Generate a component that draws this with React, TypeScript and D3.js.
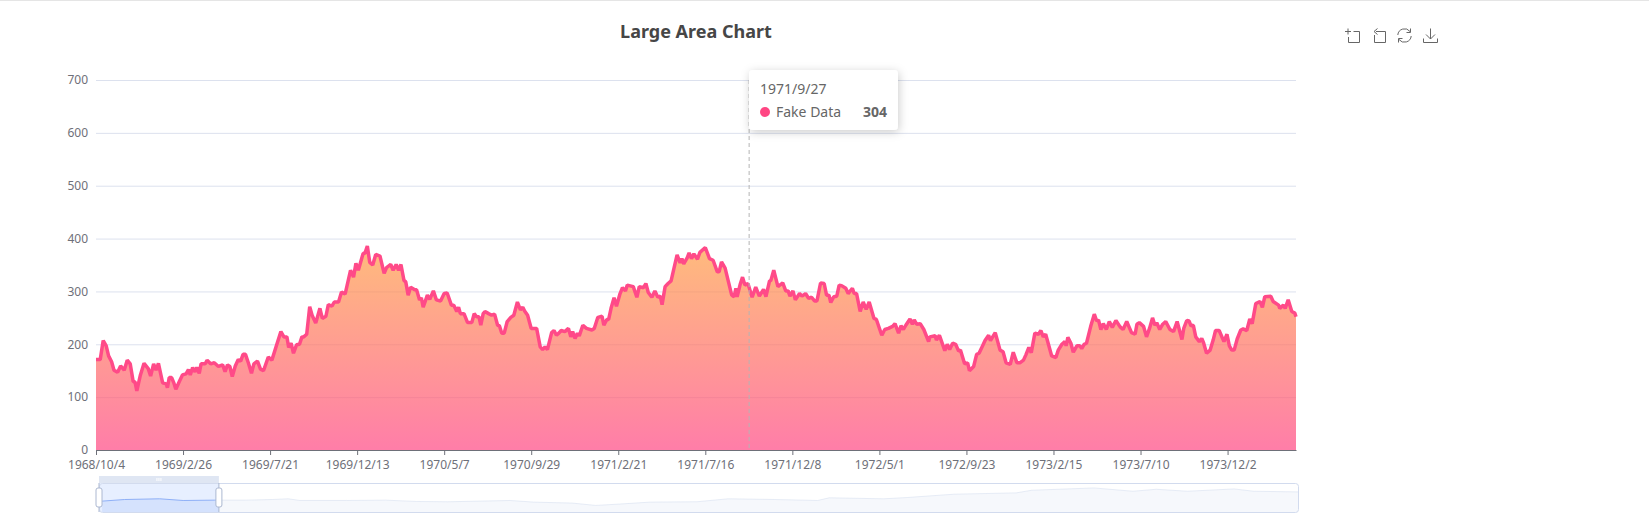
import React, { useEffect, useRef } from 'react'
import * as d3 from 'd3'

const chartTitle = 'Large Area Chart'
const seriesName = 'Fake Data'
const tooltipDate = '1971/9/27'
const tooltipDay = 1088
const tooltipValue = 304
const dayCount = 1999

const xTickDays = [0, 145, 290, 435, 580, 725, 870, 1015, 1160, 1305, 1450, 1595, 1740, 1885]
const xTickLabels = [
  '1968/10/4', '1969/2/26', '1969/7/21', '1969/12/13', '1970/5/7', '1970/9/29', '1971/2/21',
  '1971/7/16', '1971/12/8', '1972/5/1', '1972/9/23', '1973/2/15', '1973/7/10', '1973/12/2'
]
const yTicks = [0, 100, 200, 300, 400, 500, 600, 700]

// day offset from 1968/10/4 and value
const pointDays = [
  0, 7, 12, 17, 21, 26, 30, 36, 41, 47, 52, 57,
  62, 65, 68, 74, 80, 87, 91, 96, 100, 104, 111, 117,
  119, 122, 126, 130, 133, 139, 144, 150, 154, 157, 161, 165,
  168, 172, 175, 182, 185, 191, 197, 204, 211, 215, 219, 223,
  227, 232, 237, 241, 245, 249, 254, 259, 263, 269, 274, 279,
  287, 293, 301, 308, 313, 318, 321, 325, 329, 334, 339, 343,
  346, 351, 356, 360, 366, 373, 377, 383, 387, 393, 397, 404,
  409, 415, 424, 429, 433, 437, 445, 448, 452, 456, 461, 466,
  473, 480, 484, 491, 495, 500, 504, 508, 513, 516, 520, 524,
  531, 534, 539, 542, 545, 552, 556, 562, 567, 574, 580, 585,
  592, 596, 601, 604, 607, 613, 619, 626, 630, 634, 638, 641,
  645, 648, 654, 659, 664, 669, 672, 676, 680, 685, 691, 696,
  702, 707, 711, 714, 719, 725, 734, 740, 744, 748, 752, 759,
  763, 767, 771, 775, 781, 787, 791, 794, 798, 802, 805, 811,
  817, 826, 830, 836, 843, 846, 851, 854, 858, 863, 867, 873,
  877, 882, 885, 895, 901, 905, 912, 916, 920, 926, 931, 936,
  940, 943, 948, 953, 958, 962, 968, 973, 976, 979, 985, 988,
  992, 996, 1002, 1006, 1015, 1022, 1028, 1035, 1038, 1042, 1048, 1059,
  1063, 1066, 1068, 1073, 1077, 1081, 1086, 1093, 1099, 1105, 1112, 1116,
  1122, 1124, 1129, 1136, 1144, 1149, 1153, 1156, 1161, 1165, 1172, 1176,
  1182, 1187, 1192, 1197, 1201, 1207, 1213, 1217, 1221, 1224, 1229, 1234,
  1238, 1242, 1249, 1253, 1260, 1263, 1267, 1273, 1278, 1283, 1288, 1296,
  1300, 1309, 1314, 1320, 1327, 1331, 1337, 1341, 1345, 1349, 1356, 1360,
  1363, 1367, 1373, 1379, 1387, 1389, 1398, 1400, 1405, 1414, 1418, 1422,
  1427, 1432, 1437, 1440, 1447, 1452, 1455, 1462, 1467, 1471, 1476, 1481,
  1487, 1490, 1498, 1506, 1511, 1516, 1523, 1528, 1534, 1539, 1545, 1549,
  1554, 1558, 1564, 1570, 1574, 1578, 1582, 1592, 1599, 1603, 1609, 1614,
  1616, 1619, 1624, 1628, 1634, 1639, 1642, 1646, 1650, 1657, 1663, 1667,
  1670, 1674, 1678, 1683, 1688, 1693, 1699, 1706, 1711, 1717, 1725, 1731,
  1734, 1738, 1745, 1750, 1755, 1760, 1764, 1767, 1772, 1777, 1782, 1789,
  1795, 1801, 1809, 1812, 1817, 1821, 1824, 1828, 1832, 1838, 1842, 1845,
  1850, 1856, 1861, 1865, 1871, 1879, 1884, 1888, 1892, 1896, 1901, 1907,
  1911, 1917, 1922, 1926, 1932, 1939, 1943, 1947, 1957, 1961, 1970, 1972,
  1978, 1981, 1986, 1992, 1997, 1999
]
const pointValues = [
  171, 171, 207, 197, 178, 167, 151, 147, 159, 151, 170, 163,
  129, 129, 112, 142, 164, 154, 140, 163, 151, 164, 127, 125,
  118, 137, 137, 126, 115, 130, 142, 144, 152, 142, 156, 148,
  156, 145, 163, 163, 170, 163, 165, 158, 161, 148, 161, 158,
  139, 159, 171, 168, 181, 181, 164, 145, 163, 168, 153, 150,
  176, 170, 199, 224, 214, 214, 194, 202, 183, 199, 200, 214,
  214, 219, 271, 255, 240, 268, 249, 253, 275, 272, 280, 280,
  299, 295, 340, 327, 353, 340, 372, 372, 386, 355, 350, 370,
  367, 334, 345, 351, 340, 351, 340, 351, 321, 318, 293, 308,
  303, 303, 284, 288, 270, 293, 285, 301, 284, 282, 296, 297,
  274, 274, 262, 270, 258, 258, 241, 241, 258, 252, 252, 236,
  258, 262, 258, 255, 257, 236, 235, 221, 221, 243, 251, 255,
  280, 265, 270, 263, 255, 230, 230, 195, 190, 195, 190, 222,
  226, 217, 221, 226, 224, 230, 214, 224, 211, 221, 216, 236,
  230, 227, 230, 251, 253, 236, 247, 247, 268, 288, 272, 296,
  307, 301, 312, 309, 289, 309, 307, 315, 298, 289, 301, 289,
  291, 275, 309, 315, 320, 340, 369, 354, 362, 352, 364, 373,
  362, 371, 361, 374, 383, 362, 359, 337, 337, 356, 344, 293,
  290, 306, 290, 313, 327, 312, 315, 289, 308, 291, 304, 290,
  320, 320, 340, 309, 316, 301, 301, 291, 301, 284, 296, 291,
  296, 287, 289, 282, 282, 316, 315, 293, 293, 279, 290, 291,
  312, 311, 306, 296, 306, 296, 296, 262, 280, 266, 280, 249,
  247, 217, 228, 230, 234, 239, 221, 235, 228, 236, 248, 238,
  246, 238, 239, 228, 205, 214, 216, 208, 217, 188, 200, 190,
  202, 200, 187, 189, 163, 165, 150, 158, 181, 183, 195, 207,
  217, 207, 222, 189, 186, 165, 162, 185, 165, 165, 170, 180,
  194, 184, 221, 219, 226, 214, 219, 178, 175, 189, 200, 205,
  197, 213, 202, 185, 197, 197, 192, 200, 202, 234, 257, 244,
  246, 228, 239, 228, 243, 232, 245, 233, 228, 243, 222, 219,
  238, 241, 234, 214, 230, 250, 236, 241, 228, 238, 243, 228,
  224, 243, 209, 230, 245, 244, 235, 236, 214, 205, 211, 203,
  183, 189, 208, 226, 226, 205, 219, 197, 189, 189, 210, 227,
  229, 226, 248, 239, 277, 281, 270, 290, 291, 281, 274, 268,
  274, 268, 284, 262, 259, 252
]

// overview strip: the whole series, 20000 points
const miniCount = 20000
const miniIndex = [
  52, 429, 1013, 1403, 1922, 2442, 2896, 3156, 3351, 4130, 4779, 5299,
  5818, 6857, 7247, 7896, 8286, 8675, 9195, 9974, 10494, 11273, 11987, 12182,
  13091, 13481, 14260, 15299, 15558, 16597, 17247, 17636, 18156, 18935, 19260, 20000
]
const miniValues = [
  220, 253, 267, 233, 240, 240, 253, 267, 233, 233, 240, 213,
  207, 233, 200, 180, 133, 160, 200, 207, 267, 253, 233, 287,
  267, 293, 360, 387, 440, 487, 420, 460, 420, 467, 420, 407
]
const zoomEnd = 2000

const width = 1649
const height = 523
const fontFamily = '"Noto Sans", sans-serif'

export default function App() {
  const svgRef = useRef<SVGSVGElement>(null)

  useEffect(() => {
    if (!svgRef.current) return

    const svg = d3.select(svgRef.current)
    svg.selectAll('*').remove()
    svg.attr('font-family', fontFamily)

    const left = 96
    const right = 1296
    const top = 80
    const bottom = 450

    const x = d3.scaleLinear().domain([0, dayCount]).range([left, right])
    const y = d3.scaleLinear().domain([0, 700]).range([bottom, top])

    const defs = svg.append('defs')
    const grad = defs.append('linearGradient')
      .attr('id', 'areaFill')
      .attr('x1', 0).attr('y1', 0).attr('x2', 0).attr('y2', 1)
    grad.append('stop').attr('offset', 0).attr('stop-color', 'rgb(255,158,68)')
    grad.append('stop').attr('offset', 1).attr('stop-color', 'rgb(255,70,131)')

    const shadow = defs.append('filter')
      .attr('id', 'tipShadow')
      .attr('x', '-20%').attr('y', '-30%').attr('width', '140%').attr('height', '170%')
    shadow.append('feDropShadow')
      .attr('dx', 1).attr('dy', 2).attr('stdDeviation', 5)
      .attr('flood-color', '#000').attr('flood-opacity', 0.2)

    // strip across the top of the page
    svg.append('rect').attr('x', 0).attr('y', 0).attr('width', width).attr('height', 1).attr('fill', '#e5e5e5')

    svg.append('text')
      .attr('x', (left + right) / 2)
      .attr('y', 38)
      .attr('text-anchor', 'middle')
      .attr('font-size', 18)
      .attr('font-weight', 'bold')
      .attr('fill', '#464646')
      .text(chartTitle)

    // Add y-axis with gridlines
    const yAxis = svg.append('g')
      .attr('transform', `translate(${left},0)`)
      .call(d3.axisLeft(y).tickValues(yTicks).tickSize(-(right - left)).tickPadding(8))
    yAxis.select('.domain').remove()
    yAxis.selectAll('line').attr('stroke', '#DCE1EE')
    yAxis.selectAll('text').attr('fill', '#6E7079').attr('font-size', 12).attr('font-family', fontFamily)

    const points = pointDays.map((d, i) => [d, pointValues[i]] as [number, number])

    const area = d3.area<[number, number]>()
      .x(d => x(d[0]))
      .y0(y(0))
      .y1(d => y(d[1]))
    const line = d3.line<[number, number]>()
      .x(d => x(d[0]))
      .y(d => y(d[1]))

    svg.append('path')
      .attr('d', area(points))
      .attr('fill', 'url(#areaFill)')
      .attr('opacity', 0.7)
    svg.append('path')
      .attr('d', line(points))
      .attr('fill', 'none')
      .attr('stroke', 'rgb(255,74,136)')
      .attr('stroke-width', 3.5)
      .attr('stroke-linejoin', 'bevel')

    // Add x-axis
    const xAxis = svg.append('g')
      .attr('transform', `translate(0,${bottom})`)
      .call(d3.axisBottom(x)
        .tickValues(xTickDays)
        .tickSizeInner(5)
        .tickSizeOuter(0)
        .tickPadding(5)
        .tickFormat((_, i) => xTickLabels[i]))
    xAxis.select('.domain').attr('stroke', '#6E7079')
    xAxis.selectAll('line').attr('stroke', '#6E7079')
    xAxis.selectAll('text').attr('fill', '#6E7079').attr('font-size', 12).attr('font-family', fontFamily)

    // crosshair
    svg.append('line')
      .attr('x1', x(tooltipDay)).attr('x2', x(tooltipDay))
      .attr('y1', top).attr('y2', bottom)
      .attr('stroke', '#b5b5b5')
      .attr('stroke-dasharray', '4,3')

    // overview slider
    const sliderLeft = 99
    const sliderRight = 1298
    const sliderTop = 483
    const sliderBottom = 512
    const mx = d3.scaleLinear().domain([0, miniCount]).range([sliderLeft, sliderRight])
    const my = d3.scaleLinear().domain([0, 587]).range([sliderBottom, sliderTop])
    const selEnd = mx(zoomEnd)
    const miniPoints = miniIndex.map((d, i) => [d, miniValues[i]] as [number, number])
    const miniArea = d3.area<[number, number]>().x(d => mx(d[0])).y0(sliderBottom).y1(d => my(d[1]))
    const miniLine = d3.line<[number, number]>().x(d => mx(d[0])).y(d => my(d[1]))

    defs.append('clipPath').attr('id', 'selClip')
      .append('rect').attr('x', sliderLeft).attr('y', sliderTop).attr('width', selEnd - sliderLeft).attr('height', sliderBottom - sliderTop)
    defs.append('clipPath').attr('id', 'restClip')
      .append('rect').attr('x', selEnd).attr('y', sliderTop).attr('width', sliderRight - selEnd).attr('height', sliderBottom - sliderTop)

    const slider = svg.append('g')
    slider.append('path').attr('d', miniArea(miniPoints)).attr('clip-path', 'url(#restClip)').attr('fill', '#D2DBEE').attr('opacity', 0.2)
    slider.append('path').attr('d', miniLine(miniPoints)).attr('clip-path', 'url(#restClip)').attr('fill', 'none').attr('stroke', '#D2DBEE').attr('opacity', 0.5)
    slider.append('rect')
      .attr('x', sliderLeft).attr('y', sliderTop)
      .attr('width', selEnd - sliderLeft).attr('height', sliderBottom - sliderTop)
      .attr('fill', 'rgba(135,175,274,0.2)')
    slider.append('path').attr('d', miniArea(miniPoints)).attr('clip-path', 'url(#selClip)').attr('fill', '#8FB0F7').attr('opacity', 0.2)
    slider.append('path').attr('d', miniLine(miniPoints)).attr('clip-path', 'url(#selClip)').attr('fill', 'none').attr('stroke', '#8FB0F7')
    slider.append('rect')
      .attr('x', sliderLeft + 0.5).attr('y', sliderTop + 0.5)
      .attr('width', sliderRight - sliderLeft).attr('height', sliderBottom - sliderTop)
      .attr('rx', 3)
      .attr('fill', 'none')
      .attr('stroke', '#D2DBEE')

    slider.append('rect')
      .attr('x', sliderLeft).attr('y', 476)
      .attr('width', selEnd - sliderLeft).attr('height', sliderTop - 476)
      .attr('fill', '#D2DBEE').attr('opacity', 0.7)
    ;[-2, 0, 2].forEach(dx => {
      slider.append('rect')
        .attr('x', (sliderLeft + selEnd) / 2 + dx - 0.5).attr('y', 478)
        .attr('width', 1).attr('height', 3)
        .attr('fill', '#fff')
    })
    ;[sliderLeft, selEnd].forEach(hx => {
      slider.append('line')
        .attr('x1', hx).attr('x2', hx)
        .attr('y1', sliderTop).attr('y2', sliderBottom)
        .attr('stroke', '#ACB8D1')
      slider.append('rect')
        .attr('x', hx - 3).attr('y', 488)
        .attr('width', 6).attr('height', 19)
        .attr('rx', 2)
        .attr('fill', '#fff')
        .attr('stroke', '#ACB8D1')
    })

    // toolbox
    const icons = [
      'M0,3.5H6M3,0.5V6.5M8.5,3.5H14.5V14.5H3.5V9',
      'M5,3.5H14.5V14.5H3.5V7M6.5,0.5L3,3.5L6.5,6.5',
      'M0.8,7A6.8,6.8 0 0 1 13,3.5M13.5,0.5V4.5H9.5M14.2,8A6.8,6.8 0 0 1 2,11.5M1.5,14.5V10.5H5.5',
      'M7.5,0.5V11M3,6.5L7.5,11L12,6.5M0.5,10.5V14.5H14.5V10.5'
    ]
    icons.forEach((d, i) => {
      svg.append('path')
        .attr('transform', `translate(${1345 + i * 26},28)`)
        .attr('d', d)
        .attr('fill', 'none')
        .attr('stroke', '#666')
    })

    // tooltip
    const tip = svg.append('g').attr('transform', 'translate(749,70)')
    tip.append('rect')
      .attr('width', 149).attr('height', 60)
      .attr('rx', 4)
      .attr('fill', '#fff')
      .attr('filter', 'url(#tipShadow)')
    tip.append('text').attr('x', 11).attr('y', 24).attr('font-size', 14).attr('fill', '#666').text(tooltipDate)
    tip.append('circle').attr('cx', 16).attr('cy', 42).attr('r', 5).attr('fill', 'rgb(255,70,131)')
    tip.append('text').attr('x', 27).attr('y', 47).attr('font-size', 14).attr('fill', '#666').text(seriesName)
    tip.append('text')
      .attr('x', 138).attr('y', 47)
      .attr('text-anchor', 'end')
      .attr('font-size', 14)
      .attr('font-weight', 'bold')
      .attr('fill', '#666')
      .text(tooltipValue)
  }, [])

  return (
    <svg
      ref={svgRef}
      width={width}
      height={height}
      style={{ position: 'absolute', left: 0, top: 0, background: '#fff' }}
    />
  )
}
